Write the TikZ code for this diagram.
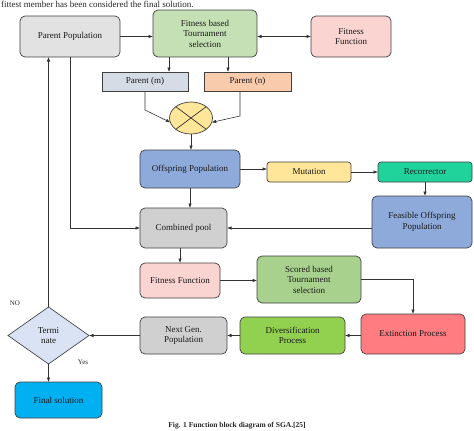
\documentclass[tikz,border=0pt]{standalone}
\usepackage{fontspec}
\setmainfont{Liberation Serif}
\usetikzlibrary{shapes.geometric,arrows.meta}
\definecolor{cPP}{HTML}{E2E2E2}
\definecolor{cFB}{HTML}{C5E0B4}
\definecolor{cFF}{HTML}{FAD4D0}
\definecolor{cPM}{HTML}{D6DCE5}
\definecolor{cPN}{HTML}{F8CBAD}
\definecolor{cYel}{HTML}{FFE699}
\definecolor{cBlue}{HTML}{8EAADB}
\definecolor{cRC}{HTML}{1FD39A}
\definecolor{cGray}{HTML}{D0D0D0}
\definecolor{cSC}{HTML}{A9D18E}
\definecolor{cEX}{HTML}{FF7C80}
\definecolor{cDV}{HTML}{92D050}
\definecolor{cDM}{HTML}{DAE3F3}
\definecolor{cFS}{HTML}{00B0F0}
\begin{document}
\begin{tikzpicture}[x=1pt,y=-1pt,
  box/.style={draw=black!75, line width=0.7pt, rounded corners=5pt, align=center,
    font=\fontsize{9}{10.5}\selectfont, text=black!90, inner sep=1pt, outer sep=0pt},
  sq/.style={box, rounded corners=0pt},
  arr/.style={-{Latex[length=4.5pt,width=3.5pt]}, line width=0.6pt, draw=black!80},
  lbl/.style={font=\fontsize{7}{8}\selectfont, text=black!85, inner sep=0pt}]
\useasboundingbox (0,0) rectangle (474,431);
\node[anchor=base west, font=\fontsize{9}{10}\selectfont, text=black!85, inner sep=0pt] (top) at (1,7.5) {fittest member has been considered the final solution.};

\node[box, fill=cPP, minimum width=100pt, minimum height=41pt] (pp) at (70,36.5) {Parent Population};
\node[box, fill=cFB, minimum width=104pt, minimum height=47pt] (fb) at (205,33.5) {Fitness based\\Tournament\\selection};
\node[box, fill=cFF, minimum width=80pt, minimum height=41pt] (ff1) at (351,36.5) {Fitness\\Function};
\node[sq, fill=cPM, minimum width=86pt, minimum height=19pt] (pm) at (145,81.5) {Parent (m)};
\node[sq, fill=cPN, minimum width=87pt, minimum height=19pt] (pn) at (247.5,81.5) {Parent (n)};
\node[ellipse, draw=black!75, line width=0.7pt, fill=cYel, minimum width=43pt, minimum height=32pt, inner sep=0pt, outer sep=0pt] (el) at (191,118) {};
\draw[line width=0.7pt, draw=black!80] (el.north west) -- (el.south east) (el.north east) -- (el.south west);
\node[box, fill=cBlue, minimum width=100pt, minimum height=38pt] (op) at (190,169) {Offspring Population};
\node[box, fill=cYel, rounded corners=3pt, minimum width=84pt, minimum height=20pt] (mu) at (309,172) {Mutation};
\node[box, fill=cRC, rounded corners=3pt, minimum width=94pt, minimum height=20pt] (rc) at (425,172) {Recorrector};
\node[box, fill=cBlue, minimum width=100pt, minimum height=52pt] (fo) at (422,222) {Feasible Offspring\\Population};
\node[box, fill=cGray, minimum width=87pt, minimum height=40pt] (cp) at (183.5,228) {Combined pool};
\node[box, fill=cFF, minimum width=80pt, minimum height=35pt] (ff2) at (180,280.5) {Fitness Function};
\node[box, fill=cSC, minimum width=104pt, minimum height=47pt] (sc) at (309,279.5) {Scored based\\Tournament\\selection};
\node[box, fill=cEX, minimum width=104pt, minimum height=40pt] (ex) at (413,334) {Extinction Process};
\node[box, fill=cDV, minimum width=105pt, minimum height=37pt] (dv) at (292.5,335.5) {Diversification\\Process};
\node[box, fill=cGray, minimum width=87pt, minimum height=37pt] (ng) at (183.5,335.5) {Next Gen.\\Population};
\node[diamond, draw=black!55!cDM!70!black, line width=0.7pt, fill=cDM, minimum width=81pt, minimum height=57pt, inner sep=0pt, outer sep=0pt, align=center, font=\fontsize{9}{10.5}\selectfont, text=black!90] (dm) at (48.5,335.5) {Termi\\nate};
\node[box, fill=cFS, minimum width=87pt, minimum height=36pt] (fs) at (58.5,400) {Final solution};

\node[lbl] (no) at (15,303) {NO};
\node[lbl] (yes) at (83,362) {Yes};
\node[font=\bfseries\fontsize{7.5}{9}\selectfont, text=black!85, inner sep=0pt] (cap) at (237,426) {Fig. 1 Function block diagram of SGA.[25]};

% connectors
\draw[arr] (pp.east) -- (pp.east -| fb.west);
\draw[{Latex[length=4.5pt,width=3.5pt]}-{Latex[length=4.5pt,width=3.5pt]}, line width=0.6pt, draw=black!80] (ff1.west -| fb.east) -- (ff1.west);
\coordinate (fbm) at ([xshift=16pt]fb.south west);
\coordinate (fbn) at ([xshift=75pt]fb.south west);
\draw[arr] (fbm) -- (fbm |- pm.north);
\draw[arr] (fbn) -- (fbn |- pn.north);
\coordinate (pmb) at (145,110);
\coordinate (pnx) at ([xshift=-7.5pt]pn.south);
\coordinate (pnb) at (240,116);
\draw[arr] (pm.south) -- (pmb) -- (el.192);
\draw[arr] (pnx) -- (pnb) -- (el.-12);
\draw[arr] (el.south) -- (el.south |- op.north);
\draw[arr] (op.east) -- (op.east -| mu.west);
\draw[arr] (mu.east) -- (rc.west);
\draw[arr] (rc.south) -- (rc.south |- fo.north);
\draw[arr] (op.south) -- (op.south |- cp.north);
\draw[arr] (cp.east -| fo.west) -- (cp.east);
\draw[arr] (pp.south) |- (cp.west);
\draw[arr] (ff2.north |- cp.south) -- (ff2.north);
\draw[arr] (ff2.east) -- (ff2.east -| sc.west);
\draw[arr] (sc.east) -| (ex.north);
\draw[arr] (dv.east -| ex.west) -- (dv.east);
\draw[arr] (dv.west) -- (ng.east);
\draw[arr] (ng.west) -- (dm.east);
\draw[arr] (dm.south) -- (dm.south |- fs.north);
\draw[arr] (dm.north) -- (dm.north |- pp.south);
\end{tikzpicture}
\end{document}
